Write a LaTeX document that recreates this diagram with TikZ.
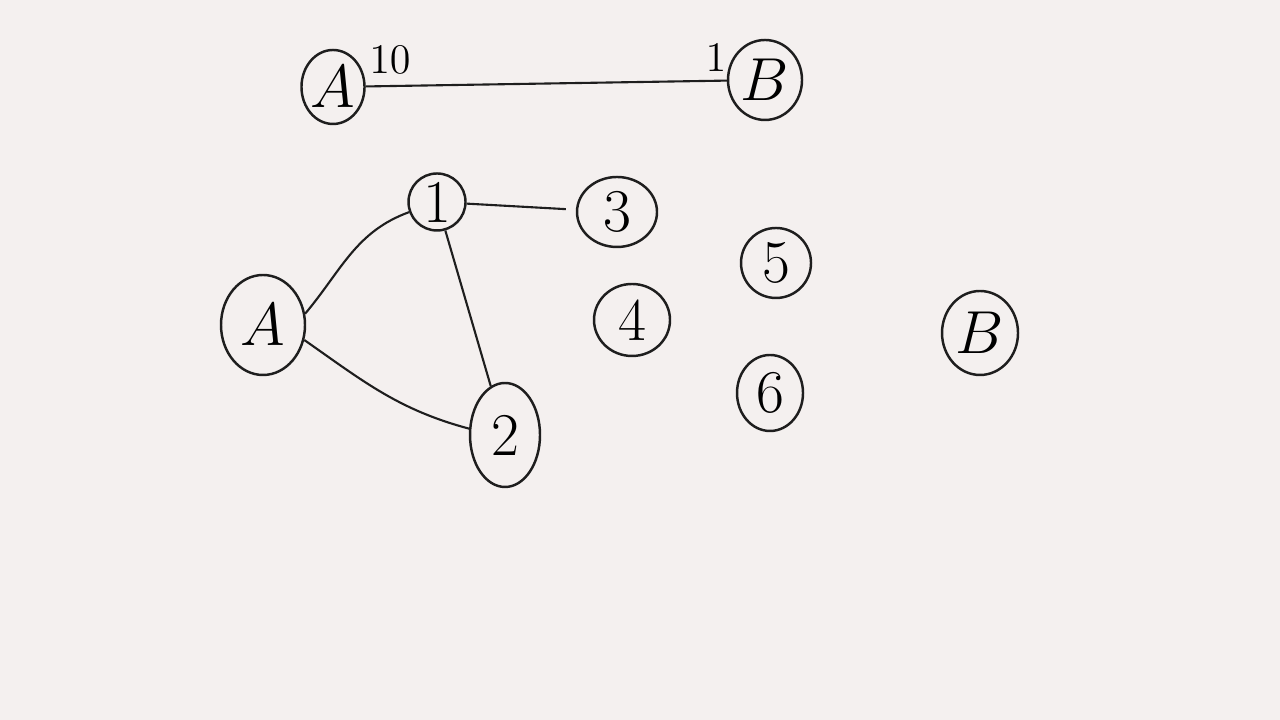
\documentclass[tikz,border=0pt]{standalone}
\usepackage{tikz}
\usetikzlibrary{shapes.geometric}
\definecolor{boardbg}{RGB}{244, 240, 239}
\definecolor{inkgray}{RGB}{30, 30, 30}

\begin{document}
\begin{tikzpicture}[font=\LARGE,
  bubble/.style={ellipse, draw=inkgray, line width=0.7pt, inner sep=0pt},
  link/.style={draw=inkgray, line width=0.6pt}]
% Board
\fill[boardbg] (0,0) rectangle (12.8,7.2);
\useasboundingbox (0,0) rectangle (12.8,7.2);

% Top pair
\node[bubble, minimum width=0.6cm, minimum height=0.74cm] (topa) at (3.33,6.33) {$A$};
\node[bubble, minimum width=0.74cm, minimum height=0.8cm] (topb) at (7.65,6.40) {$B$};
\draw[link] (topa) -- (topb);
\node[font=\large] (wa) at (3.90,6.60) {$10$};
\node[font=\large] (wb) at (7.16,6.62) {$1$};

% Graph below
\node[bubble, minimum width=0.84cm, minimum height=1.0cm] (a) at (2.63,3.95) {$A$};
\node[bubble, minimum width=0.57cm, minimum height=0.57cm] (n1) at (4.37,5.18) {1};
\node[bubble, minimum width=0.8cm, minimum height=0.7cm] (n3) at (6.17,5.08) {3};
\node[bubble, minimum width=0.76cm, minimum height=0.72cm] (n4) at (6.32,4.00) {4};
\node[bubble, minimum width=0.7cm, minimum height=1.04cm] (n2) at (5.05,2.85) {2};
\node[bubble, minimum width=0.7cm, minimum height=0.7cm] (n5) at (7.76,4.57) {5};
\node[bubble, minimum width=0.66cm, minimum height=0.76cm] (n6) at (7.70,3.27) {6};
\node[bubble, minimum width=0.76cm, minimum height=0.84cm] (b) at (9.80,3.87) {$B$};

% Edges
\draw[link] (n1.200) to[out=200, in=50] (a.15);
\draw[link, shorten >=0.1cm] (n1) -- (n3);
\draw[link] (n1) -- (n2);
\draw[link] (a.-20) to[out=-35, in=165] (n2.170);

\end{tikzpicture}
\end{document}
